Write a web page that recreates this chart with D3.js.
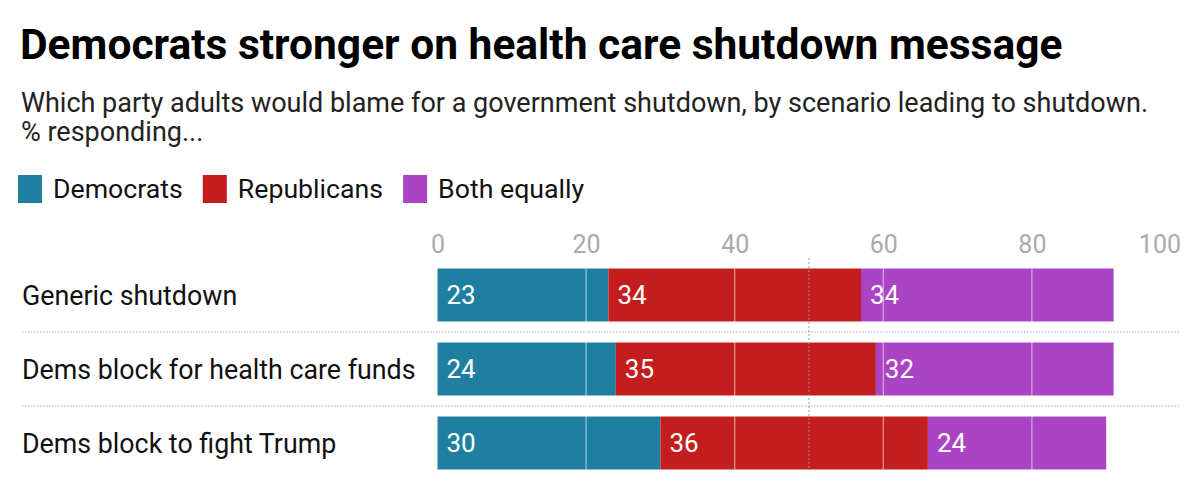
<!DOCTYPE html>
<html><head><meta charset="utf-8">
<script src="https://cdn.jsdelivr.net/npm/d3@7"></script>
<style>
body{margin:0;background:#fff;}
text{font-family:Roboto, "Noto Sans", sans-serif;}
</style></head>
<body>
<svg id="chart" width="1200" height="504"></svg>
<script>
const categories = ["Generic shutdown","Dems block for health care funds","Dems block to fight Trump"];
const seriesNames = ["Democrats","Republicans","Both equally"];
const democrats = [23,24,30];
const republicans = [34,35,36];
const bothEqually = [34,32,24];
const tickValues = [0,20,40,60,80,100];
const colors = ["#1f7fa1","#c41d1d","#aa44c4"];

const svg = d3.select("#chart");
svg.append("text").attr("x",20).attr("y",59).attr("font-size",42.5).attr("font-weight",700).attr("fill","#000")
  .text("Democrats stronger on health care shutdown message");
svg.append("text").attr("x",21).attr("y",112).attr("font-size",27).attr("fill","#222")
  .text("Which party adults would blame for a government shutdown, by scenario leading to shutdown.");
svg.append("text").attr("x",21).attr("y",141).attr("font-size",27).attr("fill","#222")
  .text("% responding...");

// legend
const legend = svg.append("g");
let lx = 18;
seriesNames.forEach((n,i)=>{
  legend.append("rect").attr("x",lx).attr("y",175).attr("width",24).attr("height",28).attr("fill",colors[i]);
  const t = legend.append("text").attr("x",lx+35).attr("y",198).attr("font-size",26.7).attr("fill","#111").text(n);
  lx += 35 + t.node().getComputedTextLength() + 20;
});

const x = d3.scaleLinear().domain([0,100]).range([437.5,1180.5]);
const y = d3.scaleBand().domain(categories).range([258,480]).paddingInner(0.284).paddingOuter(0.142);

const rows = categories.map((c,i)=>({cat:c, Democrats:democrats[i], Republicans:republicans[i], "Both equally":bothEqually[i]}));
const stacked = d3.stack().keys(seriesNames)(rows);

// axis labels
const axis = d3.axisTop(x).tickValues(tickValues).tickSize(0).tickPadding(0);
const ag = svg.append("g").attr("transform","translate(0,253)").call(axis);
ag.select(".domain").remove();
ag.selectAll("text").attr("font-size",25).attr("fill","#aaa").attr("font-family","Roboto").attr("dy",0)
  .attr("text-anchor",d=> d===100 ? "end" : "middle");

// separators
categories.slice(1).forEach(c=>{
  const yy = y(c) - (y.step()-y.bandwidth())/2;
  svg.append("line").attr("x1",22).attr("x2",1180).attr("y1",yy).attr("y2",yy)
    .attr("stroke","#c8c8c8").attr("stroke-width",1.5).attr("stroke-dasharray","1.5,1.5");
});

// row labels
svg.append("g").selectAll("text").data(categories).join("text")
  .attr("x",22).attr("y",d=>y(d)+y.bandwidth()/2).attr("dy","0.36em")
  .attr("font-size",26.8).attr("fill","#111").text(d=>d);

// bars
const sg = svg.append("g").selectAll("g").data(stacked).join("g").attr("fill",(d,i)=>colors[i]);
sg.selectAll("rect").data(d=>d).join("rect")
  .attr("x",d=>x(d[0])).attr("width",d=>x(d[1])-x(d[0]))
  .attr("y",d=>y(d.data.cat)).attr("height",y.bandwidth());

// gridlines over bars
svg.append("g").selectAll("line").data(tickValues.filter(v=>v>0&&v<100)).join("line")
  .attr("x1",d=>x(d)).attr("x2",d=>x(d)).attr("y1",y(categories[0])).attr("y2",y(categories[2])+y.bandwidth())
  .attr("stroke","rgba(255,255,255,0.55)").attr("stroke-width",1.2);
svg.append("line").attr("x1",x(50)).attr("x2",x(50)).attr("y1",258).attr("y2",y(categories[2])+y.bandwidth())
  .attr("stroke","#999").attr("stroke-width",1.2).attr("stroke-dasharray","2,2").attr("opacity",0.8);

// value labels
const lg = svg.append("g");
stacked.forEach(s=>{
  s.forEach(d=>{
    lg.append("text").attr("x",x(d[0])+9).attr("y",y(d.data.cat)+y.bandwidth()/2).attr("dy","0.36em")
      .attr("font-size",26).attr("fill","#fff").text(d[1]-d[0]);
  });
});
</script>
</body></html>
